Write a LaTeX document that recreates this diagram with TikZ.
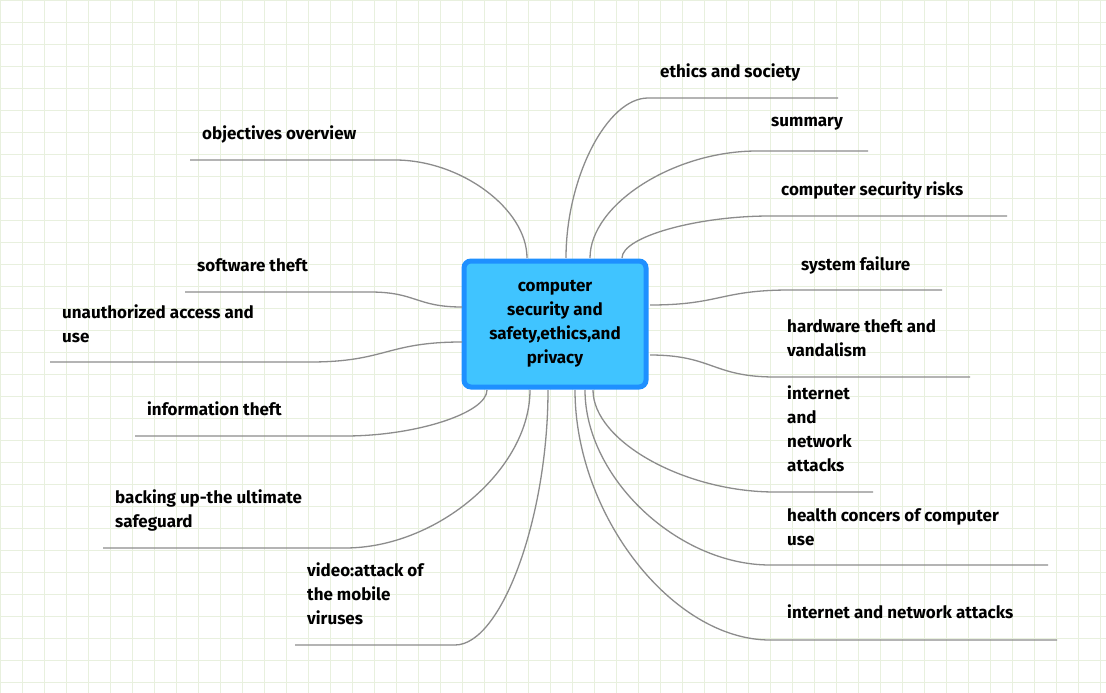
\documentclass[tikz,border=0pt]{standalone}
\usepackage{fontspec}
\setmainfont{Fira Sans}
\begin{document}
\begin{tikzpicture}[x=1pt,y=-1pt,
 lbl/.style={anchor=north west,inner sep=0pt,font=\fontsize{17}{24}\selectfont\bfseries,align=left},
 br/.style={draw=black!45,line width=1.3pt}]
\definecolor{gridc}{RGB}{232,240,222}
\useasboundingbox (0,0) rectangle (1106,693);
\fill[white] (0,0) rectangle (1106,693);
\foreach \i in {0,22,...,1106} \draw[gridc,line width=0.6pt] (\i,0) -- (\i,693);
\foreach \i in {0,22,...,693} \draw[gridc,line width=0.6pt] (0,\i) -- (1106,\i);
\node[draw={rgb,255:red,30;green,144;blue,255},line width=5pt,fill={rgb,255:red,64;green,196;blue,255},rounded corners=7pt,minimum width=182pt,minimum height=126pt,align=center,font=\fontsize{17}{24}\selectfont\bfseries] (c) at (555,324) {computer\\security and\\safety,ethics,and\\privacy};
\foreach \n/\h/\sx/\sy/\ux/\ue/\uy/\tx/\ty/\t in {
 r1/0/566/258/648/838/98/660/64/{ethics and society},
 r2/0/590/258/757/868/151/771/117/{summary},
 r3/0/622/258/770/1007/216/781/182/{computer security risks},
 r4/1/650/305/790/942/290/801/257/{system failure},
 r5/1/650/355/775/970/377/787/319/{hardware theft and\\vandalism},
 r6/0/593/390/775/873/492/787/386/{internet\\and\\network\\attacks},
 r7/0/585/390/770/1048/565/787/508/{health concers of computer\\use},
 r8/0/575/390/770/1057/640/787/605/{internet and network attacks},
 l1/0/527/258/395/190/160/202/126/{objectives overview},
 l2/1/462/307/370/185/292/197/258/{software theft},
 l3/1/462/342/310/50/362/62/305/{unauthorized access and\\use},
 l4/0/487/390/345/135/436/147/402/{information theft},
 l5/0/530/390/345/103/548/115/490/{backing up-the ultimate\\safeguard},
 l6/0/548/390/455/295/645/307/563/{video:attack of\\the mobile\\viruses}}{
 \node[lbl] (\n) at (\tx,\ty) {\t};
 \pgfmathsetmacro{\mx}{0.5*(\sx+\ux)}
 \pgfmathsetmacro{\my}{\h*\sy+(1-\h)*0.5*(\sy+\uy)}
 \pgfmathsetmacro{\cx}{\h*\mx+(1-\h)*\sx}
 \coordinate (\n s) at (\sx,\sy); \coordinate (\n a) at (\ux,\uy); \coordinate (\n b) at (\ue,\uy);
 \draw[br] (\n s) .. controls (\cx,\my) and (\mx,\uy) .. (\n a) -- (\n b);
}
\end{tikzpicture}
\end{document}
